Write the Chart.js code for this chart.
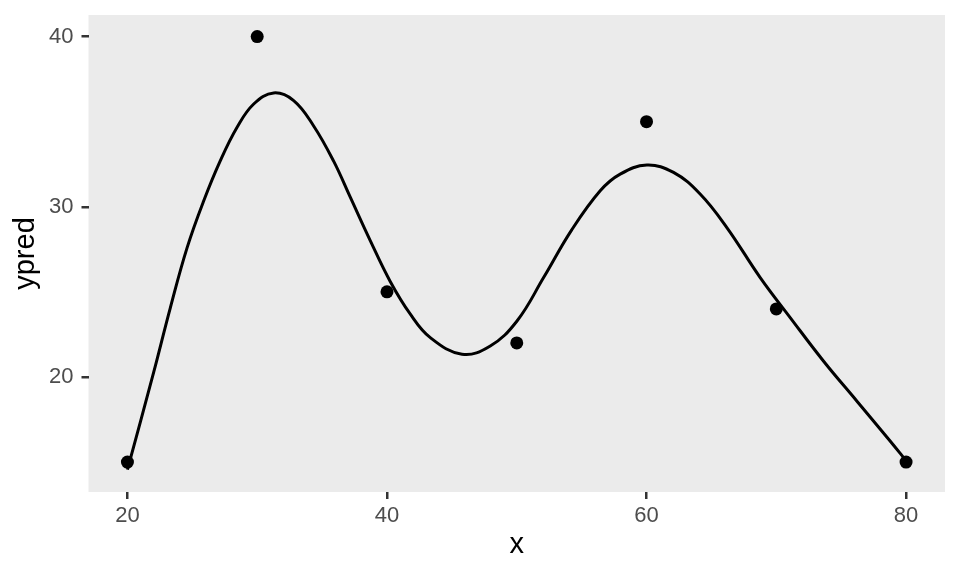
<!DOCTYPE html>
<html>
<head>
<meta charset="utf-8">
<script src="https://cdn.jsdelivr.net/npm/chart.js@4.4.1/dist/chart.umd.min.js"></script>
<style>
  html, body { margin: 0; padding: 0; background: #ffffff; }
  #wrap { width: 960px; height: 576px; }
</style>
</head>
<body>
<div id="wrap"><canvas id="c" width="960" height="576"></canvas></div>
<script>
// Observed points
const pointX = [20, 30, 40, 50, 60, 70, 80];
const pointY = [15, 40, 25, 22, 35, 24, 15];

// Smoothed curve (ypred)
const curveX = [20, 22.03, 23.31, 24.6, 25.88, 27.16, 28.45, 29.73, 31.27, 32.81, 34.35, 35.89, 37.18, 38.72, 40.26, 41.8, 43.34, 45.78, 47.96, 50.02, 52.07, 54.2, 56.43, 57.97, 60.03, 62.08, 64.13, 66.19, 68.76, 71.07, 73.63, 76.2, 78.77, 80];
const curveY = [14.55, 20.3, 24.08, 27.6, 30.35, 32.71, 34.67, 36.04, 36.69, 36.24, 34.75, 32.68, 30.55, 28.0, 25.6, 23.69, 22.31, 21.34, 21.82, 23.29, 25.84, 28.6, 30.94, 31.92, 32.45, 32.02, 30.75, 28.78, 25.84, 23.49, 20.94, 18.59, 16.24, 15.08];

// Axis ticks
const xTicks = [20, 40, 60, 80];
const yTicks = [20, 30, 40];

const xTitle = 'x';
const yTitle = 'ypred';

const FONT = 'Liberation Sans, Arial, Helvetica, sans-serif';

const panelBg = {
  id: 'panelBg',
  beforeDraw(chart) {
    const a = chart.chartArea;
    const ctx = chart.ctx;
    ctx.save();
    ctx.fillStyle = '#EBEBEB';
    ctx.fillRect(a.left, a.top, a.right - a.left, a.bottom - a.top);
    ctx.restore();
  }
};

new Chart(document.getElementById('c'), {
  type: 'scatter',
  data: {
    datasets: [
      {
        label: 'curve',
        data: curveX.map((x, i) => ({ x: x, y: curveY[i] })),
        showLine: true,
        borderColor: '#000000',
        borderWidth: 3,
        pointRadius: 0,
        pointHoverRadius: 0,
        fill: false,
        tension: 0.4
      },
      {
        label: 'points',
        data: pointX.map((x, i) => ({ x: x, y: pointY[i] })),
        showLine: false,
        pointRadius: 6.5,
        pointBackgroundColor: '#000000',
        pointBorderColor: '#000000',
        pointBorderWidth: 0
      }
    ]
  },
  options: {
    responsive: false,
    devicePixelRatio: 1,
    animation: false,
    layout: { padding: { left: 0, top: 15, right: 15, bottom: 0 } },
    plugins: { legend: { display: false }, tooltip: { enabled: false } },
    scales: {
      x: {
        type: 'linear',
        min: 17,
        max: 83,
        afterFit: s => { s.height = 84; s.paddingLeft = 0; s.paddingRight = 0; },
        afterBuildTicks: s => { s.ticks = xTicks.map(v => ({ value: v })); },
        border: { display: false },
        grid: { drawOnChartArea: false, drawTicks: true, tickLength: 7, color: '#333333', lineWidth: 2.5 },
        ticks: { color: '#4D4D4D', font: { family: FONT, size: 22 }, padding: 4, maxRotation: 0, autoSkip: false },
        title: { display: true, text: xTitle, color: '#000000', font: { family: FONT, size: 29 }, padding: { top: 0, bottom: 14 } }
      },
      y: {
        type: 'linear',
        min: 13.24,
        max: 41.27,
        afterFit: s => { s.width = 88.5; s.paddingTop = 0; s.paddingBottom = 0; },
        afterBuildTicks: s => { s.ticks = yTicks.map(v => ({ value: v })); },
        border: { display: false },
        grid: { drawOnChartArea: false, drawTicks: true, tickLength: 7, color: '#333333', lineWidth: 2.5 },
        ticks: { color: '#4D4D4D', font: { family: FONT, size: 22 }, padding: 8, autoSkip: false },
        title: { display: true, text: yTitle, color: '#000000', font: { family: FONT, size: 29 }, padding: { top: 9, bottom: 0 } }
      }
    }
  },
  plugins: [panelBg]
});
</script>
</body>
</html>
